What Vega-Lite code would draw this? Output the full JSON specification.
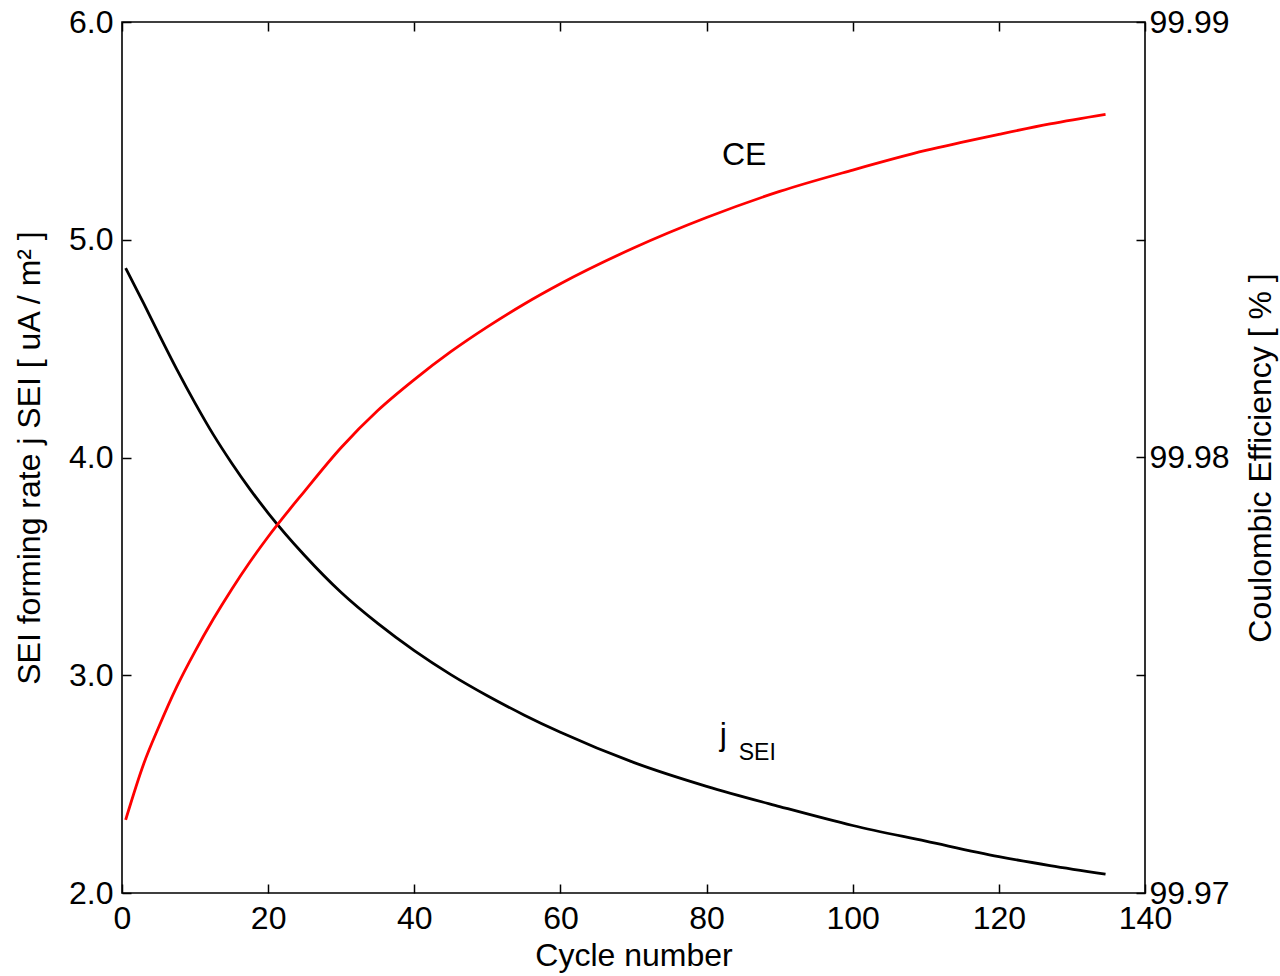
{
  "$schema": "https://vega.github.io/schema/vega-lite/v6.json",
  "autosize": {"type": "none"},
  "width": 1023,
  "height": 871,
  "padding": {"left": 122, "top": 22, "right": 135, "bottom": 83},
  "background": "white",
  "datasets": {
    "jsei": [
      {"cycle": 0.5, "j": 4.87}, {"cycle": 3, "j": 4.705}, {"cycle": 5, "j": 4.57},
      {"cycle": 7.5, "j": 4.405}, {"cycle": 10, "j": 4.25}, {"cycle": 12.5, "j": 4.105},
      {"cycle": 15, "j": 3.975}, {"cycle": 17.5, "j": 3.855}, {"cycle": 20, "j": 3.745},
      {"cycle": 25, "j": 3.55}, {"cycle": 30, "j": 3.38}, {"cycle": 35, "j": 3.238},
      {"cycle": 40, "j": 3.113}, {"cycle": 45, "j": 3.003}, {"cycle": 50, "j": 2.906},
      {"cycle": 55, "j": 2.818}, {"cycle": 60, "j": 2.738}, {"cycle": 70, "j": 2.60},
      {"cycle": 80, "j": 2.49}, {"cycle": 90, "j": 2.397}, {"cycle": 100, "j": 2.31},
      {"cycle": 110, "j": 2.238}, {"cycle": 120, "j": 2.167}, {"cycle": 127, "j": 2.126},
      {"cycle": 134.6, "j": 2.087}
    ],
    "ce": [
      {"cycle": 0.5, "ce": 99.97168}, {"cycle": 3, "ce": 99.97298}, {"cycle": 5, "ce": 99.97380},
      {"cycle": 7.5, "ce": 99.97474}, {"cycle": 10, "ce": 99.97555}, {"cycle": 12.5, "ce": 99.97629},
      {"cycle": 15, "ce": 99.97697}, {"cycle": 17.5, "ce": 99.97760}, {"cycle": 20, "ce": 99.97818},
      {"cycle": 25, "ce": 99.97923}, {"cycle": 30, "ce": 99.98023}, {"cycle": 35, "ce": 99.98108},
      {"cycle": 40, "ce": 99.98179}, {"cycle": 45, "ce": 99.98243}, {"cycle": 50, "ce": 99.98300},
      {"cycle": 55, "ce": 99.98352}, {"cycle": 60, "ce": 99.98399}, {"cycle": 70, "ce": 99.98481},
      {"cycle": 80, "ce": 99.98551}, {"cycle": 90, "ce": 99.98611}, {"cycle": 100, "ce": 99.98660},
      {"cycle": 110, "ce": 99.98705}, {"cycle": 120, "ce": 99.98742}, {"cycle": 127, "ce": 99.98766},
      {"cycle": 134.6, "ce": 99.98788}
    ],
    "labels": [
      {"cycle": 82.1, "y": 5.343, "text": "CE", "size": 32},
      {"cycle": 81.8, "y": 2.680, "text": "j", "size": 32},
      {"cycle": 84.4, "y": 2.611, "text": "SEI", "size": 23}
    ]
  },
  "layer": [
    {
      "data": {"name": "jsei"},
      "mark": {"type": "line", "color": "black", "strokeWidth": 2.8, "interpolate": "monotone"},
      "encoding": {
        "x": {
          "field": "cycle", "type": "quantitative",
          "scale": {"domain": [0, 140], "nice": false},
          "axis": {"orient": "bottom", "values": [0, 20, 40, 60, 80, 100, 120, 140], "labelFlush": false, "title": "Cycle number", "labelPadding": 19, "titlePadding": 6}
        },
        "y": {
          "field": "j", "type": "quantitative",
          "scale": {"domain": [2, 6], "nice": false, "zero": false},
          "axis": {"orient": "left", "values": [2, 3, 4, 5, 6], "format": ".1f", "labelFlush": false, "title": "SEI forming rate j SEI  [ uA / m² ]", "labelPadding": 18, "titlePadding": 22}
        }
      }
    },
    {
      "data": {"name": "ce"},
      "mark": {"type": "line", "color": "#ff0000", "strokeWidth": 2.8, "interpolate": "monotone"},
      "encoding": {
        "x": {
          "field": "cycle", "type": "quantitative",
          "scale": {"domain": [0, 140], "nice": false},
          "axis": {"orient": "top", "values": [0, 20, 40, 60, 80, 100, 120, 140], "labels": false, "title": null}
        },
        "y": {
          "field": "ce", "type": "quantitative",
          "scale": {"domain": [99.97, 99.99], "nice": false, "zero": false},
          "axis": {
            "orient": "right", "values": [99.97, 99.975, 99.98, 99.985, 99.99],
            "labelExpr": "abs(datum.value * 100 - round(datum.value * 100)) < 0.01 ? format(datum.value, '.2f') : ''",
            "labelFlush": false,
            "labelPadding": 13,
            "title": "Coulombic Efficiency  [ % ]", "titleAngle": 270, "titlePadding": 48
          }
        }
      }
    },
    {
      "data": {"name": "labels"},
      "mark": {"type": "text", "align": "left", "baseline": "alphabetic", "font": "Liberation Sans", "color": "black"},
      "encoding": {
        "x": {"field": "cycle", "type": "quantitative", "scale": {"domain": [0, 140], "nice": false}, "axis": null},
        "y": {"field": "y", "type": "quantitative", "scale": {"domain": [2, 6], "nice": false, "zero": false}, "axis": null},
        "text": {"field": "text"},
        "size": {"field": "size", "type": "quantitative", "scale": null}
      }
    }
  ],
  "resolve": {"scale": {"y": "independent"}, "axis": {"x": "independent", "y": "independent"}},
  "config": {
    "view": {"stroke": "black", "strokeWidth": 1.6},
    "font": "Liberation Sans",
    "axis": {
      "grid": false,
      "domain": false,
      "tickColor": "black",
      "tickWidth": 1.5,
      "tickSize": -9,
      "labelFont": "Liberation Sans",
      "labelFontSize": 32,
      "labelColor": "black",
      "titleFont": "Liberation Sans",
      "titleFontSize": 32,
      "titleFontWeight": "normal",
      "titleColor": "black"
    }
  }
}
